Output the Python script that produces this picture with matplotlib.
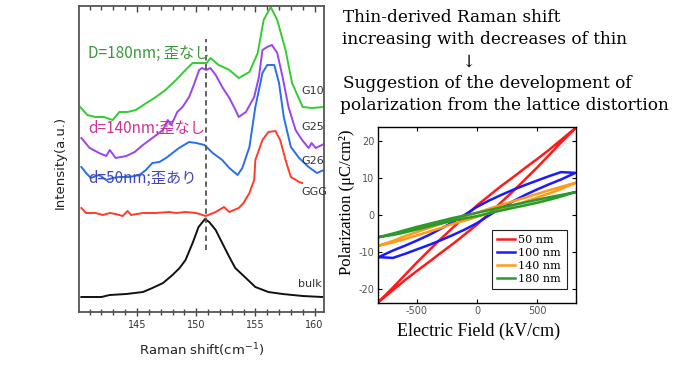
import matplotlib
matplotlib.use("Agg")
import matplotlib.pyplot as plt
from matplotlib.ticker import MultipleLocator, NullFormatter

plt.rcParams["axes.unicode_minus"] = False
W, H = 680, 376

# ---- Raman spectra (offset intensities, a.u.) ----
g10_x = [140.2, 140.8, 141.5, 142.2, 142.95, 143.5, 144.2, 144.9, 145.8, 146.6, 147.4, 148.3,
         149.1, 149.7, 150.4, 150.9, 151.2, 151.9, 152.8, 153.6, 154.5, 155.2, 155.7, 156.3,
         156.85, 157.55, 158.1, 159.0, 159.8, 160.75]
g10_y = [205, 197, 195, 195, 192, 200, 200, 202, 209, 215, 222, 232,
         242, 249, 249, 249, 254, 247, 242, 234, 240, 259, 292, 305,
         292, 262, 229, 205, 204, 205]

g25_x = [140.3, 141.0, 141.8, 142.4, 142.7, 143.2, 144.1, 144.8, 145.5, 146.3, 147.2, 147.6,
         147.9, 148.4, 148.85, 149.4, 149.8, 150.25, 150.5, 150.85, 151.2, 151.65, 152.2, 152.8,
         153.2, 153.6, 154.2, 154.9, 155.3, 155.6, 156.0, 156.4, 156.85, 157.3, 157.8, 158.4,
         158.95, 159.5, 159.75, 160.1, 160.8]
g25_y = [174, 164, 159, 156, 162, 154, 156, 160, 167, 174, 182, 192,
         187, 200, 205, 215, 227, 242, 244, 242, 244, 237, 225, 214,
         205, 195, 200, 215, 235, 262, 265, 267, 259, 235, 205, 182,
         172, 164, 169, 164, 168]

g26_x = [140.3, 140.7, 141.1, 141.8, 142.4, 142.95, 143.5, 144.35, 145.2, 145.75, 146.3, 146.9,
         147.45, 148.0, 148.55, 149.4, 150.0, 150.7, 151.4, 152.2, 152.8, 153.5, 153.9, 154.5,
         155.0, 155.6, 156.0, 156.6, 157.0, 157.4, 158.0, 158.7, 159.5, 160.2, 160.8]
g26_y = [145, 139, 134, 137, 132, 134, 135, 135, 137, 142, 149, 150,
         154, 159, 164, 170, 169, 167, 159, 152, 144, 137, 144, 165,
         205, 239, 247, 247, 229, 195, 165, 154, 145, 139, 142]

ggg_x = [140.3, 140.7, 141.5, 142.1, 142.7, 143.2, 143.8, 144.2, 144.5, 145.5, 146.6, 147.7,
         148.3, 149.1, 150.0, 150.8, 151.65, 152.35, 152.8, 153.6, 154.0, 154.5, 154.9, 155.0,
         155.6, 156.1, 156.7, 157.1, 157.55, 158.0, 158.7, 158.95]
ggg_y = [104, 99, 99, 97, 99, 98, 96, 101, 97, 99, 99, 100,
         99, 100, 99, 96, 100, 105, 100, 104, 109, 119, 132, 152,
         172, 180, 181, 172, 152, 135, 130, 129]

bulk_x = [140.3, 141.3, 142.0, 142.7, 144.1, 145.5, 146.3, 147.2, 148.0, 148.6, 149.1, 149.7,
          150.2, 150.75, 151.1, 151.65, 152.2, 152.8, 153.3, 154.2, 155.0, 156.1, 157.3, 159.0,
          160.65]
bulk_y = [15, 15, 15, 17, 18, 20, 24, 29, 37, 44, 52, 69,
          85, 93, 90, 82, 69, 55, 44, 34, 25, 20, 18, 16,
          15]

peak_shift = 150.85
peak_span = (62, 273)

# ---- P-E hysteresis (kV/cm, uC/cm^2) ----
e_field = [-820, -700, -600, -500, -400, -300, -200, -100, 0, 100, 200, 300, 400, 500, 600, 700, 820]
p50_up = [-23.5, -19.6, -16.2, -12.8, -9.6, -6.4, -3.4, -0.4, 2.6, 5.2, 7.8, 10.2, 12.7, 15.1, 17.6, 20.3, 23.5]
p100_up = [-11.4, -9.6, -8.3, -6.9, -5.4, -3.7, -1.9, 0.1, 2.2, 3.9, 5.4, 6.8, 8.1, 9.3, 10.5, 11.6, 11.4]
p140_up = [-8.3, -7.0, -5.7, -4.6, -3.5, -2.4, -1.3, -0.3, 0.6, 1.7, 2.7, 3.7, 4.7, 5.7, 6.7, 7.6, 8.7]
p180_up = [-6.0, -5.0, -4.1, -3.2, -2.4, -1.6, -0.8, -0.1, 0.6, 1.3, 2.1, 2.7, 3.4, 4.1, 4.8, 5.4, 6.2]
p50_lo = [-23.5, -20.3, -17.6, -15.1, -12.7, -10.2, -7.8, -5.2, -2.6, 0.4, 3.4, 6.4, 9.6, 12.8, 16.2, 19.6, 23.5]
p100_lo = [-11.4, -11.6, -10.5, -9.3, -8.1, -6.8, -5.4, -3.9, -2.2, -0.1, 1.9, 3.7, 5.4, 6.9, 8.3, 9.6, 11.4]
p140_lo = [-8.3, -7.4, -6.5, -5.5, -4.5, -3.5, -2.4, -1.5, -0.5, 0.5, 1.5, 2.6, 3.6, 4.7, 5.8, 7.0, 8.7]
p180_lo = [-6.0, -5.4, -4.7, -3.9, -3.1, -2.3, -1.5, -0.9, -0.3, 0.5, 1.2, 1.9, 2.6, 3.3, 4.1, 5.0, 6.2]
pe_labels = ["50 nm", "100 nm", "140 nm", "180 nm"]
pe_colors = ["#ff1a1a", "#1a1aff", "#ff9a1a", "#2a9a2a"]

fig = plt.figure(figsize=(W / 100, H / 100), dpi=100)

# ---------------- left: Raman spectra ----------------
ax = fig.add_axes([79 / W, (H - 312) / H, 245 / W, 306 / H])
ax.plot(g10_x, g10_y, color="#33cc33", lw=1.4)
ax.plot(g25_x, g25_y, color="#9944ee", lw=1.4)
ax.plot(g26_x, g26_y, color="#2a6fe8", lw=1.4)
ax.plot(ggg_x, ggg_y, color="#ff3b2a", lw=1.4)
ax.plot(bulk_x, bulk_y, color="#111111", lw=1.4)
ax.vlines(peak_shift, peak_span[0], peak_span[1], colors="#555555", lw=1.3,
          linestyles=(0, (3, 2)))
ax.set_xlim(140.1, 160.8)
ax.set_ylim(0, 306)
ax.set_yticks([])
ax.xaxis.set_major_locator(MultipleLocator(5))
ax.xaxis.set_minor_locator(MultipleLocator(1))
ax.tick_params(axis="x", which="major", direction="inout", length=6, width=1.0,
               color="#444444", labelsize=7, labelcolor="#333333", pad=3)
ax.tick_params(axis="x", which="minor", direction="inout", length=4, width=1.0, color="#444444")
top = ax.secondary_xaxis("top")
top.xaxis.set_major_locator(MultipleLocator(5))
top.xaxis.set_minor_locator(MultipleLocator(1))
top.xaxis.set_major_formatter(NullFormatter())
top.tick_params(axis="x", which="major", direction="in", length=4, width=1.0, color="#444444")
top.tick_params(axis="x", which="minor", direction="in", length=3, width=1.0, color="#444444")
top.spines["top"].set_visible(False)
for s in ax.spines.values():
    s.set_color("#555555")
    s.set_linewidth(1.3)

jp = ["Noto Sans CJK JP", "DejaVu Sans"]
ax.text(140.85, 259, "D=180nm; 歪なし", color="#3a9a3a", fontsize=11, family=jp, va="center")
ax.text(140.85, 184, "d=140nm;歪なし", color="#cc3399", fontsize=11, family=jp, va="center")
ax.text(140.85, 134, "d=50nm;歪あり", color="#4444bb", fontsize=11, family=jp, va="center")
for lab, yy in [("G10", 221), ("G25", 185), ("G26", 151), ("GGG", 120)]:
    ax.text(158.9, yy, lab, color="#333333", fontsize=8, va="center", clip_on=False)
ax.text(158.6, 28, "bulk", color="#333333", fontsize=8, va="center", clip_on=False)

fig.text(60 / W, 1 - 162 / H, "Intensity(a.u.)", rotation=90, ha="center", va="center",
         fontsize=9.5, color="#222222")
fig.text(202 / W, 1 - 350 / H, r"Raman shift(cm$^{\mathregular{-1}}$)", ha="center", va="center",
         fontsize=9.5, color="#222222")

# ---------------- right: text ----------------
serif = ["DejaVu Serif", "DejaVu Sans"]
fig.text(343 / W, 1 - 18 / H, "Thin-derived Raman shift", fontsize=12.2, family=serif, va="center")
fig.text(342 / W, 1 - 40 / H, "increasing with decreases of thin", fontsize=12.2, family=serif, va="center")
fig.text(468 / W, 1 - 62 / H, "↓", fontsize=12.2, family=serif, va="center", ha="center")
fig.text(343 / W, 1 - 83 / H, "Suggestion of the development of", fontsize=12.2, family=serif, va="center")
fig.text(340 / W, 1 - 105 / H, "polarization from the lattice distortion", fontsize=12.2, family=serif,
         va="center")

# ---------------- right: P-E loops ----------------
bx = fig.add_axes([378 / W, (H - 303) / H, 198 / W, 176 / H])
for up, lo, lab, col in zip([p50_up, p100_up, p140_up, p180_up],
                            [p50_lo, p100_lo, p140_lo, p180_lo], pe_labels, pe_colors):
    bx.plot(e_field + e_field[::-1], lo + up[::-1], color=col, lw=1.8, label=lab)
bx.set_xlim(-825, 825)
bx.set_ylim(-23.8, 23.8)
bx.set_xticks([-500, 0, 500])
bx.set_yticks([-20, -10, 0, 10, 20])
bx.tick_params(direction="in", length=3, width=0.8, top=True, right=True,
               labelsize=7, labelcolor="#555555", pad=2.5)
for s in bx.spines.values():
    s.set_linewidth(1.0)
leg = bx.legend(loc="lower right", bbox_to_anchor=(0.953, 0.078), borderaxespad=0,
                prop={"family": "DejaVu Serif", "size": 8}, fancybox=False, framealpha=1,
                edgecolor="#222222", handlelength=1.6, handletextpad=0.3, labelspacing=0.25,
                borderpad=0.5)
leg.get_frame().set_linewidth(0.8)

fig.text(479 / W, 1 - 331 / H, "Electric Field (kV/cm)", ha="center", va="center",
         fontsize=13, family="Liberation Serif")
fig.text(347 / W, 1 - 202 / H, "Polarization (μC/cm²)", rotation=90, ha="center", va="center",
         fontsize=12, family="Liberation Serif")

fig.savefig("out.png", dpi=100)
